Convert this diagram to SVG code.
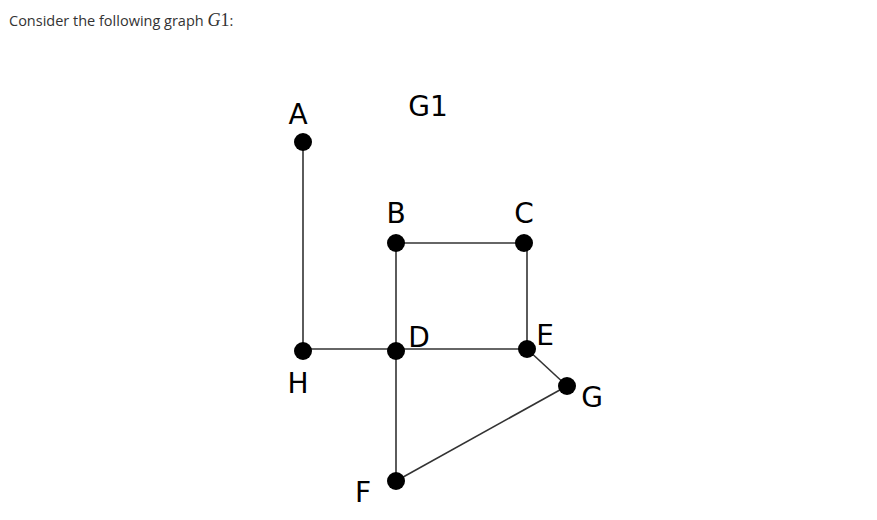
<svg xmlns="http://www.w3.org/2000/svg" width="877" height="520" viewBox="0 0 877 520">
<style>
.e{stroke:#333;stroke-width:1.6;fill:none}
.n{fill:#000}
.l{font-family:"DejaVu Sans",sans-serif;font-size:28px;fill:#000}
</style>
<rect width="877" height="520" fill="#fff"/>
<text x="9" y="26" font-family="Open Sans,sans-serif" font-size="14.5" fill="#333">Consider the following graph <tspan font-family="Liberation Serif,serif" font-style="italic" font-size="18">G</tspan><tspan font-family="Liberation Serif,serif" font-size="18">1</tspan>:</text>
<g id="edges">
<line class="e" x1="303" y1="142" x2="303" y2="351"/>
<line class="e" x1="303" y1="349" x2="527" y2="349"/>
<line class="e" x1="396" y1="243" x2="524" y2="243"/>
<line class="e" x1="396" y1="243" x2="396" y2="481"/>
<line class="e" x1="527" y1="243" x2="527" y2="349"/>
<line class="e" x1="527" y1="349" x2="567" y2="386"/>
<line class="e" x1="567" y1="386" x2="396" y2="481"/>
</g>
<text class="l" x="428" y="116" text-anchor="middle">G1</text>
<g id="A"><circle class="n" cx="303" cy="142" r="9"/><text class="l" x="298" y="124" text-anchor="middle">A</text></g>
<g id="B"><circle class="n" cx="396" cy="243" r="9"/><text class="l" x="396" y="223" text-anchor="middle">B</text></g>
<g id="C"><circle class="n" cx="524" cy="243" r="9"/><text class="l" x="524" y="223" text-anchor="middle">C</text></g>
<g id="H"><circle class="n" cx="303" cy="351" r="9"/><text class="l" x="298" y="393" text-anchor="middle">H</text></g>
<g id="D"><circle class="n" cx="396" cy="351" r="9"/><text class="l" x="419" y="347" text-anchor="middle">D</text></g>
<g id="E"><circle class="n" cx="527" cy="349" r="9"/><text class="l" x="545" y="345" text-anchor="middle">E</text></g>
<g id="G"><circle class="n" cx="567" cy="386" r="9"/><text class="l" x="592" y="407" text-anchor="middle">G</text></g>
<g id="F"><circle class="n" cx="396" cy="481" r="9"/><text class="l" x="363" y="502" text-anchor="middle">F</text></g>
</svg>
